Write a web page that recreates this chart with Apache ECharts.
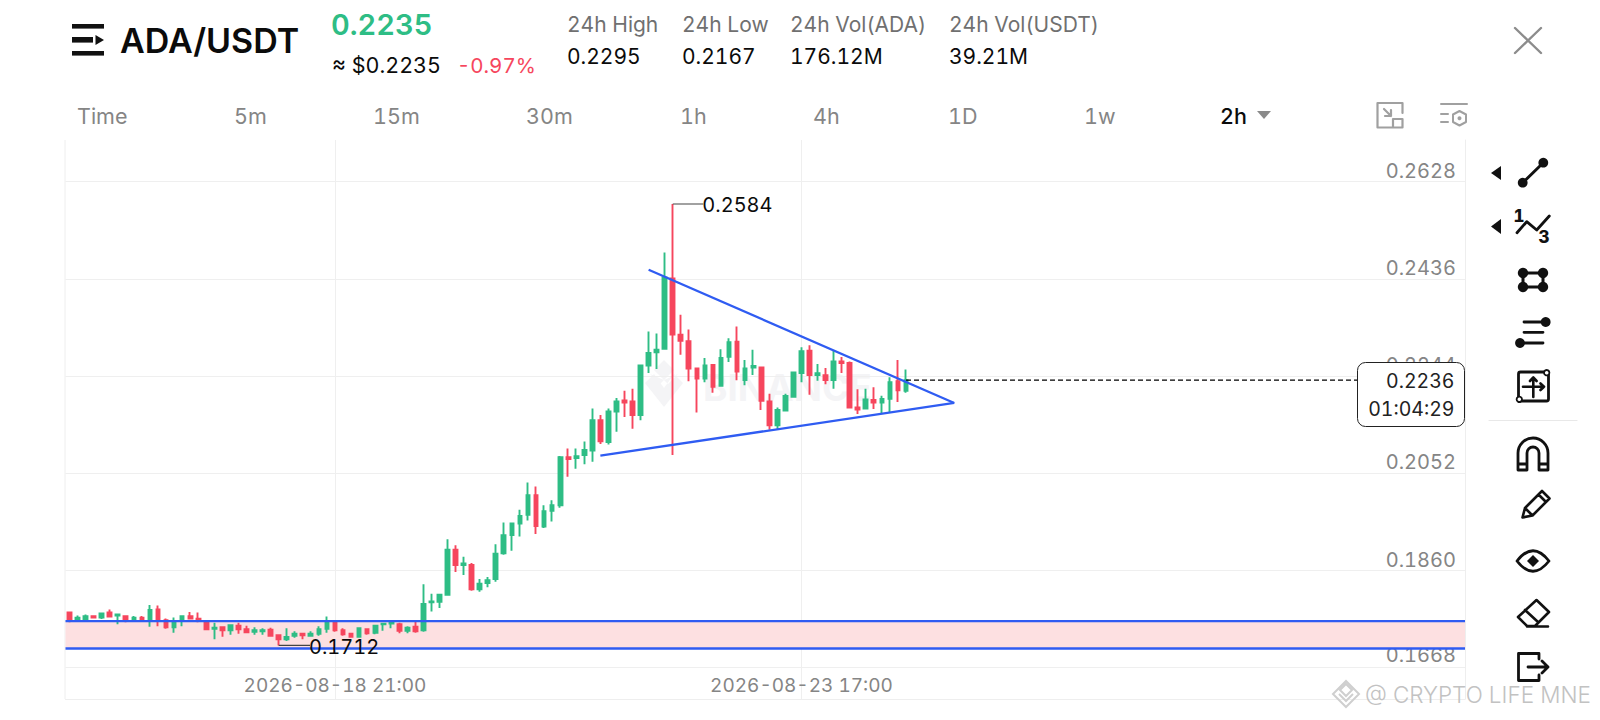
<!DOCTYPE html>
<html>
<head>
<meta charset="utf-8">
<style>html,body{margin:0;padding:0;background:#fff}#c{width:1600px;height:720px}
svg text{font-variant-numeric:tabular-nums !important;font-feature-settings:"tnum" 1 !important}</style>
<script src="https://cdn.jsdelivr.net/npm/echarts@6/dist/echarts.min.js"></script>
</head>
<body>
<div id="c"></div>
<script>
// [open, close, low, high]
const candles = [
[.1777,.1764,.1758,.1779],[.1764,.1767,.1761,.1771],[.1764,.1770,.1762,.1773],[.1770,.1767,.1766,.1771],
[.1767,.1775,.1764,.1777],[.1777,.1769,.1767,.1783],[.1771,.1773,.1754,.1773],[.1770,.1762,.1758,.1771],
[.1763,.1767,.1761,.1770],[.1767,.1763,.1761,.1770],[.1764,.1782,.1749,.1792],[.1783,.1762,.1750,.1791],
[.1762,.1748,.1745,.1765],[.1748,.1758,.1737,.1767],[.1761,.1770,.1750,.1771],[.1770,.1765,.1763,.1778],
[.1765,.1764,.1758,.1777],[.1758,.1744,.1742,.1761],[.1745,.1747,.1724,.1757],[.1748,.1742,.1729,.1748],
[.1742,.1752,.1733,.1754],[.1751,.1744,.1735,.1757],[.1744,.1738,.1736,.1751],[.1739,.1742,.1733,.1748],
[.1740,.1742,.1733,.1746],[.1743,.1731,.1729,.1747],[.1732,.1724,.1712,.1732],[.1724,.1729,.1721,.1746],
[.1731,.1735,.1727,.1740],[.1735,.1732,.1724,.1735],[.1731,.1735,.1729,.1740],[.1735,.1744,.1731,.1750],
[.1745,.1757,.1737,.1769],[.1757,.1742,.1739,.1758],[.1742,.1734,.1731,.1746],[.1735,.1729,.1727,.1737],
[.1729,.1746,.1727,.1747],[.1744,.1736,.1733,.1746],[.1737,.1751,.1734,.1752],[.1754,.1755,.1741,.1756],
[.1755,.1757,.1746,.1760],[.1754,.1741,.1736,.1757],[.1741,.1747,.1736,.1750],[.1749,.1740,.1737,.1760],
[.1742,.1794,.1739,.1833],[.1797,.1799,.1779,.1814],[.1798,.1812,.1786,.1812],[.1812,.1901,.1810,.1922],
[.1901,.1871,.1857,.1910],[.1871,.1874,.1851,.1887],[.1871,.1823,.1820,.1875],[.1823,.1834,.1818,.1843],
[.1835,.1841,.1827,.1847],[.1843,.1893,.1838,.1912],[.1894,.1930,.1891,.1955],[.1930,.1953,.1899,.1953],
[.1953,.1968,.1927,.1980],[.1970,.2009,.1959,.2034],[.2009,.1948,.1932,.2026],[.1947,.1977,.1944,.1989],
[.1978,.1989,.1957,.1999],[.1989,.2084,.1984,.2086],[.2084,.2080,.2045,.2101],[.2082,.2086,.2061,.2101],
[.2088,.2098,.2070,.2115],[.2097,.2157,.2075,.2180],[.2157,.2115,.2110,.2167],[.2114,.2174,.2109,.2180],
[.2174,.2194,.2134,.2201],[.2196,.2192,.2163,.2215],[.2194,.2167,.2140,.2219],[.2167,.2265,.2157,.2267],
[.2265,.2290,.2250,.2332],[.2291,.2296,.2258,.2328],[.2298,.2439,.2298,.2488],[.2437,.2326,.2088,.2584],
[.2326,.2314,.2286,.2365],[.2313,.2259,.2234,.2336],[.2259,.2239,.2172,.2259],[.2239,.2265,.2232,.2280],
[.2266,.2223,.2211,.2266],[.2225,.2280,.2223,.2297],[.2282,.2311,.2272,.2319],[.2312,.2253,.2236,.2342],
[.2236,.2259,.2226,.2276],[.2261,.2264,.2246,.2296],[.2261,.2195,.2177,.2263],[.2194,.2147,.2138,.2209],
[.2147,.2177,.2138,.2182],[.2176,.2205,.2174,.2209],[.2203,.2251,.2202,.2253],[.2250,.2293,.2232,.2301],
[.2294,.2246,.2207,.2305],[.2246,.2250,.2235,.2268],[.2246,.2236,.2228,.2260],[.2236,.2273,.2219,.2294],
[.2273,.2270,.2250,.2282],[.2270,.2182,.2181,.2273],[.2182,.2178,.2169,.2218],[.2180,.2198,.2180,.2219],
[.2197,.2192,.2179,.2222],[.2192,.2199,.2169,.2205],[.2199,.2232,.2171,.2242],[.2234,.2216,.2193,.2276],
[.2215,.2236,.2211,.2257]
];
const categories = [];
for (let i = 0; i < 174; i++) categories.push(String(i));
const yTicks = [.1668,.1860,.2052,.2244,.2436,.2628];
const xTickIndex = [33, 91];
const xTickLabels = ['2026-08-18 21:00', '2026-08-23 17:00'];
const zoneTop = .1760, zoneBottom = .1706;
const trendUpper = [[72,.2454],[110,.2191]];
const trendLower = [[66,.2087],[110,.2191]];
const lastPriceLine = [[104,.2236],[160.1,.2236]];
const maxMark = [[75,.2584],[78.8,.2584]];
const minMark = [[26,.1712],[29.9,.1712]];

const UP = '#2ebd85', DOWN = '#f6465d', BLUE = '#2f5cf2', GREY = '#858585', INK = '#0b0b0b';
const FONT = 'Inter, "Noto Sans", sans-serif';

let shapeCount = 0;
function pathShape(d) {
  const name = 'chromeShape' + (shapeCount++);
  echarts.graphic.registerShape(name, echarts.graphic.extendPath(d, {}));
  return name;
}
function txt(x, y, text, size, fill, weight, align, z) {
  return {type:'text', silent:true, z: z === undefined ? 50 : z, style:{x, y, text, fill, textAlign: align || 'left',
    textVerticalAlign:'middle', font:(weight||400)+' '+size+'px '+FONT}};
}
function icon(d, w, stroke, fill) {
  return {type:pathShape(d), silent:true, z:50,
    style:{stroke: stroke === undefined ? '#111' : stroke, lineWidth:w, fill: fill || 'none', lineJoin:'round', lineCap:'round'}};
}
function solid(d) { return icon(d, 0, 'none', '#111'); }
function dot(cx, cy, r) { return {type:'circle', silent:true, z:51, shape:{cx,cy,r}, style:{fill:'#111'}}; }
function ring(cx, cy, r) { return {type:'circle', silent:true, z:51, shape:{cx,cy,r}, style:{fill:'#fff', stroke:'#111', lineWidth:1.8}}; }
function rect(x, y, width, height, fill) { return {type:'rect', silent:true, z:50, shape:{x,y,width,height}, style:{fill}}; }

const chrome = [
  // header
  rect(72,24,32,4.6,'#111'), rect(72,37,21,5.6,'#111'), rect(72,51,32,4.6,'#111'), solid('M95.5,35 L104,40 L95.5,45 Z'),
  txt(120,40,'ADA/USDT',34,INK,600),
  txt(331,24.5,'0.2235',29,UP,600),
  txt(332,65,'≈ $0.2235',21.5,INK,400),
  txt(457,65,'-0.97%',20.5,DOWN,400),
  txt(567,24.5,'24h High',21,'#707070'), txt(567,56.5,'0.2295',21,INK),
  txt(682,24.5,'24h Low',21,'#707070'), txt(682,56.5,'0.2167',21,INK),
  txt(790,24.5,'24h Vol(ADA)',21,'#707070'), txt(790,56.5,'176.12M',21,INK),
  txt(949,24.5,'24h Vol(USDT)',21,'#707070'), txt(949,56.5,'39.21M',21,INK),
  icon('M1515,28 L1541,53 M1541,28 L1515,53',2.4,'#8c8c8c'),
  // intervals
  txt(77,116,'Time',21.5,GREY), txt(234,116,'5m',21.5,GREY), txt(373,116,'15m',21.5,GREY),
  txt(526,116,'30m',21.5,GREY), txt(680,116,'1h',21.5,GREY), txt(813,116,'4h',21.5,GREY),
  txt(948,116,'1D',21.5,GREY), txt(1084,116,'1w',21.5,GREY), txt(1220,116,'2h',21.5,INK,500),
  icon('M1257,111 H1271 L1264,119 Z',0,'none','#8a8a8a'),
  icon('M1394,127.5 H1377.5 V103 H1402.5 V113 M1393,119 H1402.5 V127.5 H1393 Z M1384,109 L1391,116 M1391,110 V116 H1385',2.2,'#a0a0a0'),
  icon('M1441,104 H1467 M1441,114 H1448 M1441,122 H1448 M1459.5,111 L1466,114.5 V122 L1459.5,125.5 L1453,122 V114.5 Z',2,'#a0a0a0'),
  {type:'circle',silent:true,z:50,shape:{cx:1459.5,cy:118.3,r:2},style:{fill:'#a0a0a0'}},
  // toolbar
  solid('M1501,166 V180 L1491,173 Z'), solid('M1501,219 V234 L1491,226.5 Z'),
  icon('M1523,182.5 L1543,163',3), dot(1522.7,182.7,4.9), dot(1543.3,162.7,4.9),
  icon('M1517,232.7 L1526.7,221.7 L1536.7,230 L1549.3,216',2.8),
  txt(1519,216,'1',17,'#111',800,'center'), txt(1544,237,'3',17,'#111',800,'center'),
  icon('M1523,273 H1543 V287 H1523 Z',3), dot(1523,273,5.2), dot(1543,273,5.2), dot(1523,287,5.2), dot(1543,287,5.2),
  icon('M1524,322 H1542 M1524,332.3 H1543 M1524,343 H1543',2.8), dot(1545.7,322,4.9), dot(1520,343,4.9),
  {type:'rect',silent:true,z:50,shape:{x:1518.5,y:372,width:30,height:29,r:2},style:{fill:'none',stroke:'#111',lineWidth:2.8}},
  ring(1546.7,372.7,2.7), ring(1519.3,399.3,2.7),
  icon('M1523,386.7 H1544 M1533.3,378 V397 M1530,381 L1533.3,377.5 L1536.6,381 M1540.5,383.5 L1544,386.7 L1540.5,390',2.6),
  icon('M1489,420.5 H1577',1.2,'#e8e8e8'),
  icon('M1518,470 V453 A15,15 0 0 1 1548,453 V470 H1539 V453 A6,6 0 0 0 1527,453 V470 Z M1518,464 H1527 M1539,464 H1548',2.8),
  icon('M1522.5,517.5 L1525,508 L1542,491 L1549.5,498.5 L1532.5,515.5 Z M1538.5,494.5 L1546,502 M1525,508 L1532,515',2.6),
  icon('M1517,561 Q1533,540.5 1549,561 Q1533,581.5 1517,561 Z',2.8), solid('M1533,555 L1539,561 L1533,567 L1527,561 Z'),
  icon('M1518,617 L1536.5,600 L1549,612 L1535,626 L1527,626 Z M1525,610 L1538,622 M1527,626.5 H1548',2.6),
  icon('M1539,653.5 H1518.5 V680.5 H1539 V675 M1539,653.5 V659 M1528,667 H1548 M1542,661 L1548,667 L1542,673',2.8),
  // frame line on the left
  {type:'line',silent:true,z:0,shape:{x1:65,y1:140,x2:65,y2:699},style:{stroke:'#eeeeee',lineWidth:1}},
  // centre watermark (below the candles)
  {type:pathShape('M664,360 L674,370 L664,380 L654,370 Z M650,374 L660,384 L664,380 M678,374 L668,384 L664,380 M645,383 L664,407 L683,383 L674,374 L664,388 L654,374 Z'),silent:true,z:0,style:{fill:'#f4f4f6'}},
  {type:'text',silent:true,z:0,style:{x:703,y:387,text:'BINANCE',fill:'#f4f4f6',textVerticalAlign:'middle',font:'700 37px '+FONT}},
  // last price box
  {type:'rect',silent:true,z:80,shape:{x:1357.5,y:362.5,width:107,height:64,r:8},style:{fill:'#fff',stroke:'#222',lineWidth:1}},
  txt(1454.5,381,'0.2236',19.5,'#222',400,'right',81), txt(1454.5,409,'01:04:29',19.5,'#222',400,'right',81),
  // signature
  {type:pathShape('M1346,684 L1352,690 L1346,696 L1340,690 Z M1333,694 L1346,707 L1359,694 L1346,681 Z M1339,694 L1346,701 L1353,694'),silent:true,z:82,style:{stroke:'#cfcfcf',lineWidth:2,fill:'none'}},
  {type:'text',silent:true,z:82,style:{x:1365,y:694,text:'@ CRYPTO LIFE MNE',fill:'#c2c2c2',textVerticalAlign:'middle',font:'300 22.5px '+FONT}}
];

function overlay(data, extra) {
  return Object.assign({type:'line', xAxisIndex:1, yAxisIndex:0, data, symbol:'none', silent:true, animation:false}, extra);
}
const extreme = {show:true, distance:-1, color:INK, fontSize:20, fontFamily:FONT, formatter:p => p.value[1].toFixed(4)};

const chart = echarts.init(document.getElementById('c'), null, {renderer:'svg'});
chart.setOption({
  animation:false,
  backgroundColor:'#fff',
  textStyle:{fontFamily:FONT},
  grid:{left:65.5, width:1399.5, top:140, bottom:21, containLabel:false},
  xAxis:[
    {type:'category', data:categories, boundaryGap:true, axisLine:{show:false}, axisTick:{show:false}, axisLabel:{show:false}, splitLine:{show:false}},
    {type:'value', position:'bottom', min:-0.5, max:173.5,
      axisLine:{show:true, onZero:false, lineStyle:{color:'#eeeeee', width:1}},
      axisTick:{show:false, customValues:xTickIndex},
      axisLabel:{show:true, inside:true, margin:4, color:GREY, fontSize:19, fontFamily:FONT, hideOverlap:false,
        customValues:xTickIndex, formatter:v => xTickLabels[xTickIndex.indexOf(Math.round(v))] || ''},
      splitLine:{show:true, lineStyle:{color:'#efefef', width:1}}}
  ],
  yAxis:{type:'value', position:'right', min:.16062, max:.27104, scale:true,
    axisLine:{show:true, onZero:false, lineStyle:{color:'#eeeeee', width:1}},
    axisTick:{show:false, customValues:yTicks},
    axisLabel:{inside:true, margin:9, verticalAlign:'bottom', color:GREY, fontSize:20, fontFamily:FONT, customValues:yTicks, hideOverlap:false,
      formatter:v => Math.abs(v - yTicks[0]) < 1e-6 ? '{low|' + v.toFixed(4) + '}' : '{tick|' + v.toFixed(4) + '}',
      rich:{tick:{color:GREY, fontSize:20, fontFamily:FONT, padding:[0,0,1,0]}, low:{color:GREY, fontSize:20, fontFamily:FONT, padding:[0,0,3,0]}}},
    splitLine:{show:true, lineStyle:{color:'#efefef', width:1}}},
  series:[
    overlay([], {name:'zone', z:1, markArea:{silent:true, itemStyle:{color:'#fde0e1'}, data:[[{yAxis:zoneBottom},{yAxis:zoneTop}]]}}),
    {type:'candlestick', xAxisIndex:0, yAxisIndex:0, data:candles, barWidth:4.2, z:2, silent:true,
      itemStyle:{color:UP, color0:DOWN, borderColor:UP, borderColor0:DOWN, borderWidth:1.9}},
    overlay([[-0.5,zoneTop],[173.5,zoneTop]], {z:5, lineStyle:{color:BLUE, width:2.3}}),
    overlay([[-0.5,zoneBottom],[173.5,zoneBottom]], {z:5, lineStyle:{color:BLUE, width:2.3}}),
    overlay(trendUpper, {z:5, lineStyle:{color:BLUE, width:2.3}}),
    overlay(trendLower, {z:5, lineStyle:{color:BLUE, width:2.3}}),
    overlay(lastPriceLine, {z:4, lineStyle:{color:'#000', width:1.2, type:[5,3]}}),
    overlay(maxMark, {z:6, lineStyle:{color:'#444', width:1.2}, endLabel:Object.assign({offset:[0,1]}, extreme)}),
    overlay(minMark, {z:6, lineStyle:{color:'#444', width:1.2}, endLabel:Object.assign({offset:[0,2]}, extreme)})
  ],
  graphic:{elements:chrome}
});
</script>
</body>
</html>
